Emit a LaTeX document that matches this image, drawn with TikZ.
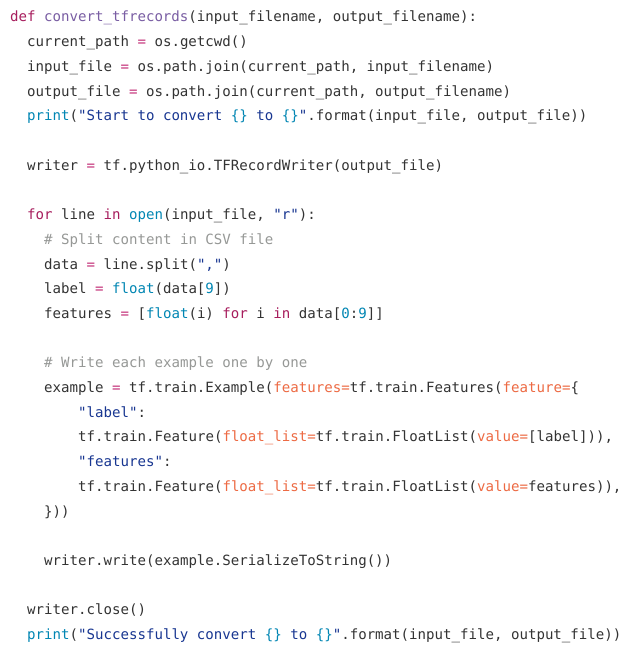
\documentclass[tikz,border=0pt]{standalone}
\usepackage{fontspec}
\newfontfamily\code{DejaVu Sans Mono}
\definecolor{kwc}{HTML}{A71D5D}
\definecolor{fnc}{HTML}{795DA3}
\definecolor{opc}{HTML}{C42F78}
\definecolor{bic}{HTML}{0086B3}
\definecolor{stc}{HTML}{183691}
\definecolor{cmc}{HTML}{969896}
\definecolor{arc}{HTML}{ED6A43}
\definecolor{txc}{HTML}{333333}
\newcommand\K[1]{\textcolor{kwc}{#1}}
\newcommand\F[1]{\textcolor{fnc}{#1}}
\newcommand\E{\textcolor{opc}{=}}
\newcommand\B[1]{\textcolor{bic}{#1}}
\newcommand\St[1]{\textcolor{stc}{#1}}
\newcommand\Cm[1]{\textcolor{cmc}{#1}}
\newcommand\A[1]{\textcolor{arc}{#1}}
\begin{document}
\begin{tikzpicture}[x=1pt,y=1pt,
  ln/.style={anchor=base west,inner sep=0pt,font=\code\fontsize{14.1}{16}\selectfont,text=txc}]
\useasboundingbox[fill=white] (0,0) rectangle (627,-652);
\def\yy#1{-22-(#1-1)*24.7}
\node[ln] (l1) at (10,{\yy{1}}) {\K{def} \F{convert\_tfrecords}(input\_filename, output\_filename):};
\node[ln] (l2) at (27,{\yy{2}}) {current\_path \E{} os.getcwd()};
\node[ln] (l3) at (27,{\yy{3}}) {input\_file \E{} os.path.join(current\_path, input\_filename)};
\node[ln] (l4) at (27,{\yy{4}}) {output\_file \E{} os.path.join(current\_path, output\_filename)};
\node[ln] (l5) at (27,{\yy{5}}) {\B{print}(\St{"Start to convert }\B{\{\}}\St{\ to }\B{\{\}}\St{"}.format(input\_file, output\_file))};
\node[ln] (l7) at (27,{\yy{7}}) {writer \E{} tf.python\_io.TFRecordWriter(output\_file)};
\node[ln] (l9) at (27,{\yy{9}}) {\K{for} line \K{in} \B{open}(input\_file, \St{"r"}):};
\node[ln] (l10) at (44,{\yy{10}}) {\Cm{\# Split content in CSV file}};
\node[ln] (l11) at (44,{\yy{11}}) {data \E{} line.split(\St{","})};
\node[ln] (l12) at (44,{\yy{12}}) {label \E{} \B{float}(data[\B{9}])};
\node[ln] (l13) at (44,{\yy{13}}) {features \E{} [\B{float}(i) \K{for} i \K{in} data[\B{0}:\B{9}]]};
\node[ln] (l15) at (44,{\yy{15}}) {\Cm{\# Write each example one by one}};
\node[ln] (l16) at (44,{\yy{16}}) {example \E{} tf.train.Example(\A{features=}tf.train.Features(\A{feature=}\{};
\node[ln] (l17) at (78,{\yy{17}}) {\St{"label"}:};
\node[ln] (l18) at (78,{\yy{18}}) {tf.train.Feature(\A{float\_list=}tf.train.FloatList(\A{value=}[label])),};
\node[ln] (l19) at (78,{\yy{19}}) {\St{"features"}:};
\node[ln] (l20) at (78,{\yy{20}}) {tf.train.Feature(\A{float\_list=}tf.train.FloatList(\A{value=}features)),};
\node[ln] (l21) at (44,{\yy{21}}) {\}))};
\node[ln] (l23) at (44,{\yy{23}}) {writer.write(example.SerializeToString())};
\node[ln] (l25) at (27,{\yy{25}}) {writer.close()};
\node[ln] (l26) at (27,{\yy{26}}) {\B{print}(\St{"Successfully convert }\B{\{\}}\St{\ to }\B{\{\}}\St{"}.format(input\_file, output\_file))};
\end{tikzpicture}
\end{document}
